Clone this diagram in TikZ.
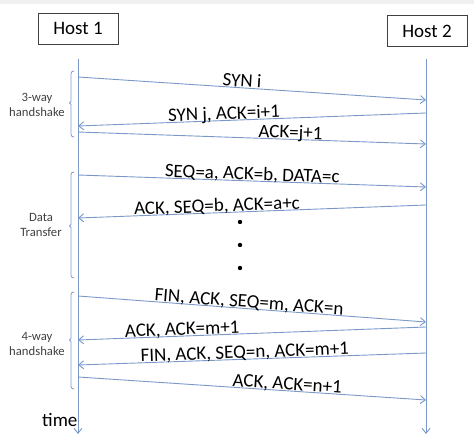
\documentclass[tikz,border=0pt]{standalone}
\usepackage{fontspec}
\setmainfont{Carlito}
\usetikzlibrary{arrows.meta,positioning}
\definecolor{lineblue}{RGB}{122,152,200}
\definecolor{boxgray}{RGB}{64,64,64}

\begin{document}
\begin{tikzpicture}[x=1pt,y=-1pt,
  msg/.style={draw=lineblue,line width=0.9pt,-{Straight Barb[length=5pt,width=8pt]}},
  lbl/.style={sloped,anchor=base,inner sep=0pt,yshift=1pt,font=\fontsize{19}{22}\selectfont},
  host/.style={draw=boxgray,line width=0.9pt,minimum width=80pt,minimum height=31pt,
    font=\fontsize{19}{22}\selectfont},
  side/.style={align=center,text=boxgray,font=\fontsize{12.7}{15}\selectfont},
  phase/.style={draw=lineblue,line width=0.8pt,line join=round}]
  \useasboundingbox (0,0) rectangle (474,441);
  \fill[gray!12] (0,0) rectangle (474,4);
  \node[host] (h1) at (78,28.5) {Host 1};
  \node[host] (h2) at (427,31) {Host 2};
  % time lines
  \coordinate (t1) at (78,59);
  \coordinate (t2) at (426,59);
  \coordinate (e1) at (78,434);
  \coordinate (e2) at (426,434);
  \draw[msg] (t1)--(e1);
  \draw[msg] (t2)--(e2);
  % 3-way handshake
  \coordinate (A1) at (78,77);   \coordinate (B1) at (426,100);
  \coordinate (B2) at (426,113); \coordinate (A2) at (78,126);
  \coordinate (A3) at (78,132);  \coordinate (B3) at (426,144);
  \draw[msg] (A1)--(B1) node[lbl,pos=.47]{SYN i};
  \draw[msg] (B2)--(A2) node[lbl,pos=.58]{SYN j, ACK=i+1};
  \draw[msg] (A3)--(B3) node[lbl,pos=.61]{ACK=j+1};
  % data transfer
  \coordinate (A4) at (78,175);  \coordinate (B4) at (426,187);
  \coordinate (B5) at (426,205); \coordinate (A5) at (78,218);
  \draw[msg] (A4)--(B4) node[lbl,pos=.5]{SEQ=a, ACK=b, DATA=c};
  \draw[msg] (B5)--(A5) node[lbl,pos=.6]{ACK, SEQ=b, ACK=a+c};
  \foreach \y in {222,245,268}
    \fill (240,\y) circle (2.2pt);
  % 4-way handshake
  \coordinate (A6) at (78,296);  \coordinate (B6) at (426,322);
  \coordinate (B7) at (426,327); \coordinate (A7) at (78,340);
  \coordinate (B8) at (426,353); \coordinate (A8) at (78,365);
  \coordinate (A9) at (78,377);  \coordinate (B9) at (426,400);
  \draw[msg] (A6)--(B6) node[lbl,pos=.49]{FIN, ACK, SEQ=m, ACK=n};
  \draw[msg] (B7)--(A7) node[lbl,pos=.7]{ACK, ACK=m+1};
  \draw[msg] (B8)--(A8) node[lbl,pos=.52]{FIN, ACK, SEQ=n, ACK=m+1};
  \draw[msg] (A9)--(B9) node[lbl,pos=.6]{ACK, ACK=n+1};
  % phases
  \foreach \t/\m/\b in {71/103/137,172/226/278,292/340/389}
    \draw[phase] (74,\t) to[out=180,in=90] (71,\t+2.5) -- (71,\m-1.5)
      -- (69.5,\m) -- (71,\m+1.5) -- (71,\b-2.5) to[out=-90,in=180] (74,\b);
  \node[side] (p1) at (37,105) {3-way\\handshake};
  \node[side] (p2) at (41,225) {Data\\Transfer};
  \node[side] (p3) at (37,344) {4-way\\handshake};
  \node[anchor=base west,inner sep=0pt,font=\fontsize{19}{22}\selectfont] (tm) at (42,426) {time};
\end{tikzpicture}
\end{document}
